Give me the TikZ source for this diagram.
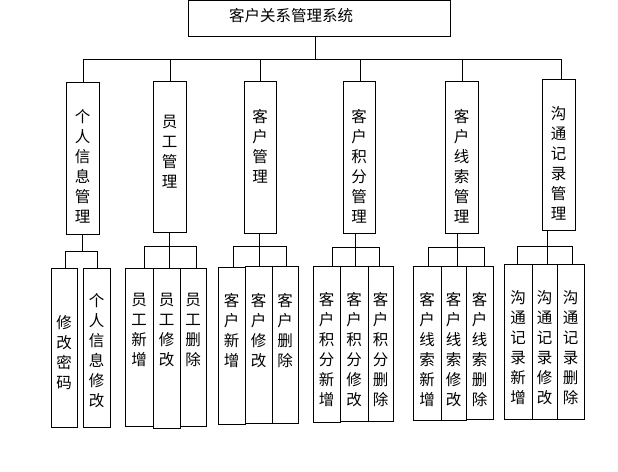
\documentclass[tikz,border=0pt]{standalone}
\usepackage{fontspec}
\setmainfont{Noto Sans CJK SC}
\begin{document}
\begin{tikzpicture}[x=1pt,y=-1pt,line width=1pt,
  bx/.style={draw=black},
  tx/.style={anchor=north,inner sep=0pt,align=center,font=\fontsize{15.5}{20}\selectfont}]
\useasboundingbox (0,0) rectangle (618,471);
\draw[bx] (188,0.5) rectangle (450,36) coordinate (topbr);
\node[inner sep=0pt,font=\fontsize{15.5}{20}\selectfont] (top) at (291,16) {客户关系管理系统};
\coordinate (tb) at (315,36);
\draw (tb) -- (315,59);
\draw (83,59) -- (561,59);
% level 2
\foreach \n/\a/\b/\t/\bt/\s/\ty/\txt in {
 a/66/99/82/234/83/110/{个\\人\\信\\息\\管\\理},
 b/153/186/81/232/170/116/{员\\工\\管\\理},
 c/244/276/81/233/260/110/{客\\户\\管\\理},
 d/343/375/81/233/360/110/{客\\户\\积\\分\\管\\理},
 e/445/478/81/233/462/110/{客\\户\\线\\索\\管\\理},
 f/542/575/79/230/561/107/{沟\\通\\记\\录\\管\\理}}{
  \draw[bx] (\a,\t) rectangle (\b,\bt);
  \draw (\s,59) -- (\s,\t);
  \node[tx] (\n) at ({(\a+\b)/2},\ty-1) {\txt};
}
% level 3
\foreach \s/\y/\l/\r/\bt in {82/251/65/97/234, 169/246/144/196/232, 259/246/233/286/233, 355/247/332/379/233, 457/247/428/484/233, 547/246/517/572/230}{
  \draw (\s,\bt) -- (\s,\y);
  \draw (\l,\y) -- (\r,\y);
}
\foreach \x/\y/\tp in {65/251/268, 97/251/268, 144/246/268, 196/246/268, 233/246/267, 286/246/266, 332/247/266, 379/247/266, 428/247/266, 484/247/266, 517/246/264, 572/246/264}{
  \draw (\x,\y) -- (\x,\tp);
}
\draw (169,246) -- (169,268);
\draw (259,246) -- (259,266);
\draw (355,247) -- (355,266);
\draw (457,247) -- (457,266);
\draw (547,246) -- (547,264);
\foreach \n/\a/\b/\t/\bt/\ty/\txt in {
 a1/51/77/268/427/316/{修\\改\\密\\码},
 a2/83/110/268/427/294/{个\\人\\信\\息\\修\\改},
 b1/125/153/268/426/294/{员\\工\\新\\增},
 b2/153/180/268/428/294/{员\\工\\修\\改},
 b3/180/206/268/426/294/{员\\工\\删\\除},
 c1/218/245/267/424/294/{客\\户\\新\\增},
 c2/245/272/266/423/294/{客\\户\\修\\改},
 c3/272/298/266/423/294/{客\\户\\删\\除},
 d1/313/340/266/422/293/{客\\户\\积\\分\\新\\增},
 d2/340/368/266/421/293/{客\\户\\积\\分\\修\\改},
 d3/368/393/266/421/293/{客\\户\\积\\分\\删\\除},
 e1/413/441/266/420/293/{客\\户\\线\\索\\新\\增},
 e2/441/466/266/420/293/{客\\户\\线\\索\\修\\改},
 e3/466/493/266/419/293/{客\\户\\线\\索\\删\\除},
 f1/504/532/264/419/291/{沟\\通\\记\\录\\新\\增},
 f2/532/557/264/419/291/{沟\\通\\记\\录\\修\\改},
 f3/557/584/264/419/291/{沟\\通\\记\\录\\删\\除}}{
  \draw[bx] (\a,\t) rectangle (\b,\bt);
  \node[tx] (\n) at ({(\a+\b)/2},\ty-1) {\txt};
}
\end{tikzpicture}
\end{document}
